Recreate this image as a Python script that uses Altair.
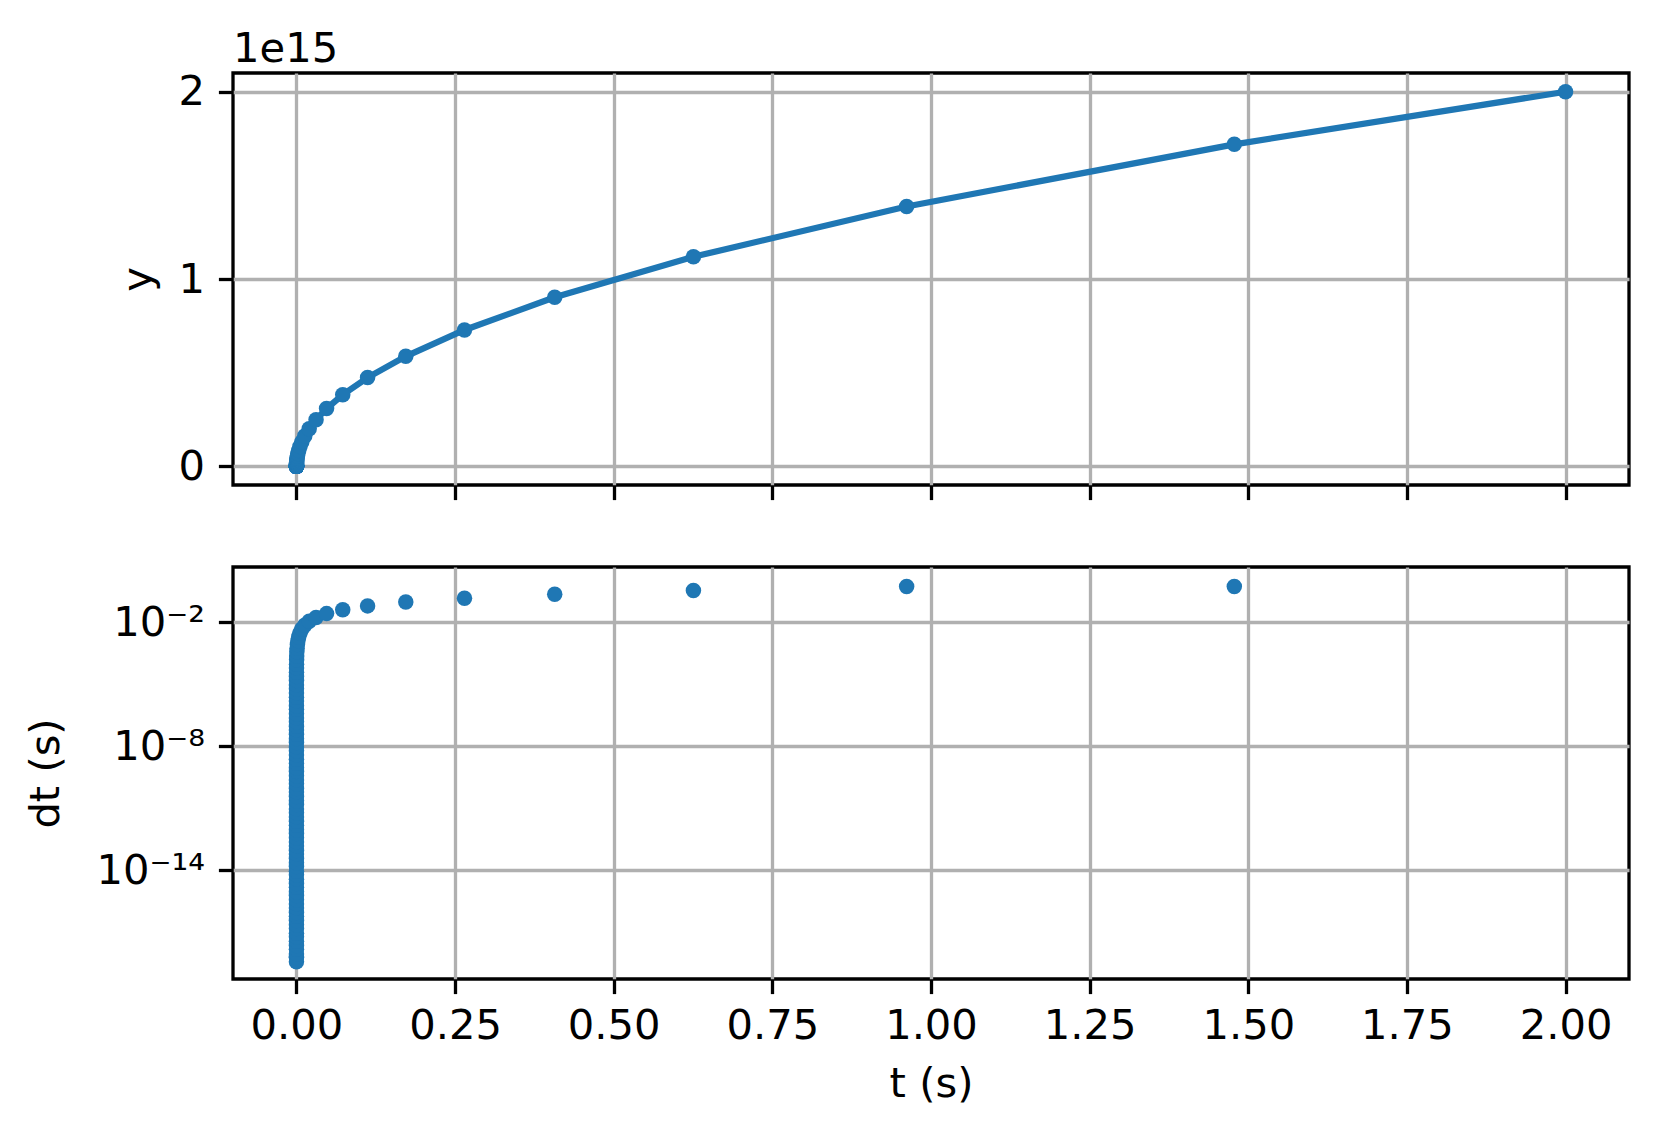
import altair as alt
import numpy as np
import pandas as pd

# time points of the solver (s); first is t=0, last is t=2
t_s = [
    0.0,
    6.3e-19,
    1.0e-18, 1.6e-18, 2.5e-18, 4.0e-18, 6.3e-18,
    1.0e-17, 1.6e-17, 2.5e-17, 4.0e-17, 6.3e-17,
    1.0e-16, 1.6e-16, 2.5e-16, 4.0e-16, 6.3e-16,
    1.0e-15, 1.6e-15, 2.5e-15, 4.0e-15, 6.3e-15,
    1.0e-14, 1.6e-14, 2.5e-14, 4.0e-14, 6.3e-14,
    1.0e-13, 1.6e-13, 2.5e-13, 4.0e-13, 6.3e-13,
    1.0e-12, 1.6e-12, 2.5e-12, 4.0e-12, 6.3e-12,
    1.0e-11, 1.6e-11, 2.5e-11, 4.0e-11, 6.3e-11,
    1.0e-10, 1.6e-10, 2.5e-10, 4.0e-10, 6.3e-10,
    1.0e-9, 1.6e-9, 2.5e-9, 4.0e-9, 6.3e-9,
    1.0e-8, 1.6e-8, 2.5e-8, 4.0e-8, 6.3e-8,
    1.0e-7, 1.6e-7, 2.5e-7, 4.0e-7, 6.3e-7,
    1.0e-6, 1.6e-6, 2.5e-6, 4.0e-6, 6.3e-6,
    1.0e-5, 1.6e-5, 2.5e-5, 4.0e-5, 6.3e-5,
    1.0e-4, 1.6e-4, 2.5e-4, 4.0e-4, 6.3e-4,
    0.000991, 0.001524, 0.002342, 0.003599, 0.005532, 0.008502,
    0.01307, 0.02009, 0.03087, 0.04745, 0.07293, 0.1121, 0.1723,
    0.2648, 0.4070, 0.6256, 0.9616, 1.478, 2.0,
]

# y values in units of 1e15
y_1e15 = [
    0.0,
    1.122e-9,
    1.414e-9, 1.789e-9, 2.236e-9, 2.828e-9, 3.550e-9,
    4.472e-9, 5.657e-9, 7.071e-9, 8.944e-9, 1.122e-8,
    1.414e-8, 1.789e-8, 2.236e-8, 2.828e-8, 3.550e-8,
    4.472e-8, 5.657e-8, 7.071e-8, 8.944e-8, 1.122e-7,
    1.414e-7, 1.789e-7, 2.236e-7, 2.828e-7, 3.550e-7,
    4.472e-7, 5.657e-7, 7.071e-7, 8.944e-7, 1.122e-6,
    1.414e-6, 1.789e-6, 2.236e-6, 2.828e-6, 3.550e-6,
    4.472e-6, 5.657e-6, 7.071e-6, 8.944e-6, 1.122e-5,
    1.414e-5, 1.789e-5, 2.236e-5, 2.828e-5, 3.550e-5,
    4.472e-5, 5.657e-5, 7.071e-5, 8.944e-5, 1.122e-4,
    1.414e-4, 1.789e-4, 2.236e-4, 2.828e-4, 3.550e-4,
    4.472e-4, 5.657e-4, 7.071e-4, 8.944e-4, 1.122e-3,
    1.414e-3, 1.789e-3, 2.236e-3, 2.828e-3, 3.550e-3,
    4.472e-3, 5.657e-3, 7.071e-3, 8.944e-3, 1.122e-2,
    1.414e-2, 1.789e-2, 2.236e-2, 2.828e-2, 3.550e-2,
    0.0445, 0.0552, 0.0684, 0.0848, 0.1052, 0.1304,
    0.1617, 0.2004, 0.2485, 0.3081, 0.3819, 0.4735, 0.587,
    0.7277, 0.9022, 1.1186, 1.387, 1.719, 2.0,
]

x_tick_values = [0.0, 0.25, 0.5, 0.75, 1.0, 1.25, 1.5, 1.75, 2.0]
y_tick_values = [0, 1, 2]
dt_tick_values = [1e-14, 1e-8, 1e-2]
offset_label = ["1e15"]

dt_s = np.diff(np.array(t_s))
top_df = pd.DataFrame({"t": t_s, "y": y_1e15})
bot_df = pd.DataFrame({"t": t_s[:-1], "dt": dt_s})
lab_df = pd.DataFrame({"label": offset_label})

FONT = "DejaVu Sans"
FS = 41.67
BLUE = "#1f77b4"
W, H1, H2 = 1396, 412, 412
MS = 240

x_scale = alt.Scale(domain=[-0.1, 2.1], nice=False, zero=False)

base_top = alt.Chart(top_df).encode(
    x=alt.X("t:Q", scale=x_scale,
            axis=alt.Axis(values=x_tick_values, labels=False, title=None)),
    y=alt.Y("y:Q", scale=alt.Scale(domain=[-0.1, 2.1], nice=False, zero=False),
            axis=alt.Axis(values=y_tick_values, format="d", title="y",
                          titlePadding=18)),
)
offset_text = alt.Chart(lab_df).mark_text(
    align="left", baseline="alphabetic", font=FONT, fontSize=FS, color="black"
).encode(text="label:N", x=alt.value(0), y=alt.value(-10.6))

top = alt.layer(
    base_top.mark_line(color=BLUE, strokeWidth=6.25, clip=True),
    base_top.mark_circle(color=BLUE, size=MS, opacity=1, clip=True),
    offset_text,
).properties(width=W, height=H1)

bottom = alt.Chart(bot_df).mark_circle(color=BLUE, size=MS, opacity=1, clip=True).encode(
    x=alt.X("t:Q", scale=x_scale,
            axis=alt.Axis(values=x_tick_values, format=".2f", title="t (s)",
                          labelPadding=12, titlePadding=16)),
    y=alt.Y("dt:Q",
            scale=alt.Scale(type="log", domain=[10 ** -19.26, 10 ** 0.66], nice=False),
            axis=alt.Axis(values=dt_tick_values, title="dt (s)", titlePadding=29,
                          labelExpr="datum.value < 1e-10 ? '10⁻¹⁴' : (datum.value < 1e-5 ? '10⁻⁸' : '10⁻²')")),
).properties(width=W, height=H2)

chart = alt.vconcat(top, bottom, spacing=82, bounds="flush").properties(
    padding={"left": 15, "top": 19, "right": 5, "bottom": 5},
    background="white",
).configure_axis(
    domain=False,
    grid=True,
    gridColor="#b0b0b0",
    gridWidth=3.3,
    tickColor="black",
    tickWidth=3.3,
    tickSize=14.6,
    labelFont=FONT,
    labelFontSize=FS,
    labelColor="black",
    labelPadding=14,
    titleFont=FONT,
    titleFontSize=FS,
    titleFontWeight="normal",
    titleColor="black",
).configure_view(
    stroke="black",
    strokeWidth=3.3,
)

chart.save("out.html", embed_options={"renderer": "svg", "actions": False})
